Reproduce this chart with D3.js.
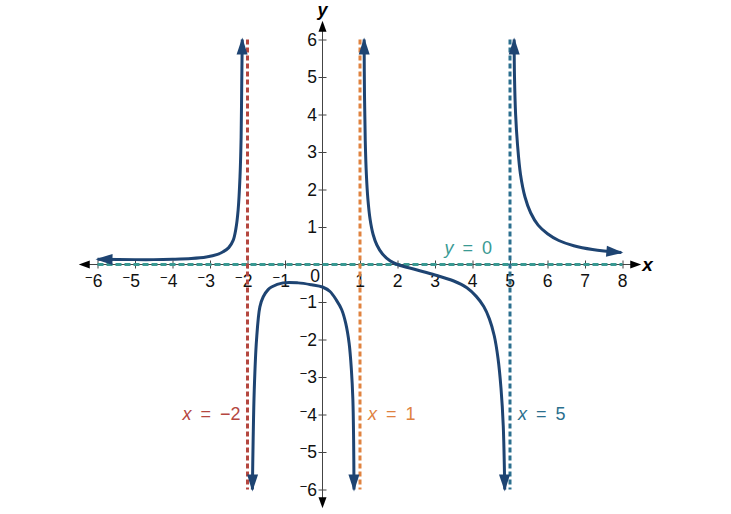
<!DOCTYPE html>
<html>
<head>
<meta charset="utf-8">
<script src="https://cdn.jsdelivr.net/npm/d3@7"></script>
<style>
  body { margin: 0; background: #fff; }
  svg { display: block; font-family: "Liberation Sans", Arial, sans-serif; }
</style>
</head>
<body>
<div id="chart"></div>
<script>
// tick values
const xTicks = [-6, -5, -4, -3, -2, -1, 1, 2, 3, 4, 5, 6, 7, 8];
const yTicks = [-6, -5, -4, -3, -2, -1, 1, 2, 3, 4, 5, 6];

// curve branches as [x, y]
const branchLeft = [
  [-6.0, 0.14], [-5.0, 0.13], [-4.5, 0.13], [-4.0, 0.14], [-3.5, 0.16],
  [-3.1, 0.2], [-2.8, 0.27], [-2.65, 0.34], [-2.5, 0.45], [-2.38, 0.65],
  [-2.31, 0.95], [-2.25, 1.45], [-2.2, 2.34], [-2.17, 3.4], [-2.155, 4.7], [-2.14, 6.0]
];
const branchMiddle = [
  [-1.87, -6.0], [-1.85, -4.7], [-1.82, -3.35], [-1.76, -2.02], [-1.67, -1.13],
  [-1.58, -0.86], [-1.45, -0.67], [-1.36, -0.6], [-1.05, -0.49], [-0.65, -0.49],
  [-0.29, -0.54], [0.0, -0.6], [0.2, -0.72], [0.37, -0.95], [0.51, -1.2],
  [0.62, -1.57], [0.71, -2.1], [0.77, -2.8], [0.81, -3.6], [0.83, -4.69], [0.84, -6.0]
];
const branchRight = [
  [1.11, 6.0], [1.12, 4.5], [1.14, 3.3], [1.17, 2.4], [1.21, 1.75],
  [1.27, 1.2], [1.35, 0.8], [1.45, 0.52], [1.6, 0.28], [1.8, 0.1],
  [2.0, 0.0], [2.5, -0.14], [3.0, -0.28], [3.5, -0.44], [3.85, -0.62],
  [4.1, -0.85], [4.3, -1.12], [4.45, -1.45], [4.58, -1.9], [4.68, -2.5],
  [4.76, -3.3], [4.82, -4.3], [4.86, -6.0]
];
const branchFar = [
  [5.11, 6.0], [5.12, 5.0], [5.15, 4.0], [5.2, 3.2], [5.28, 2.4],
  [5.4, 1.8], [5.55, 1.38], [5.75, 1.05], [6.0, 0.82], [6.3, 0.64],
  [6.7, 0.5], [7.2, 0.4], [7.97, 0.32]
];
const branches = [branchLeft, branchMiddle, branchRight, branchFar];

// asymptotes
const vAsymptotes = [-2, 1, 5];
const vLabels = ["−2", "1", "5"];
const vColors = ["#b5473f", "#e0823f", "#2b6f8e"];
const hAsymptote = 0;

const width = 731, height = 514;
const curveColor = "#1e4472";
const hColor = "#3a9a93";

const svg = d3.select("#chart").append("svg")
  .attr("width", width)
  .attr("height", height);

const x = d3.scaleLinear().domain([-6, 8]).range([97.5, 622.5]);
const y = d3.scaleLinear().domain([-6, 6]).range([489.5, 39.5]);

function tri(g, tip, ux, uy, len, half, color) {
  const bx = tip[0] - ux * len, by = tip[1] - uy * len;
  g.append("path")
    .attr("d", `M${tip[0]},${tip[1]}L${bx - uy * half},${by + ux * half}L${bx + uy * half},${by - ux * half}Z`)
    .attr("fill", color);
}

// axes
const axisG = svg.append("g");
axisG.append("line")
  .attr("x1", x(-6.5) + 6).attr("x2", x(8.5) - 6)
  .attr("y1", y(0)).attr("y2", y(0))
  .attr("stroke", "#444").attr("stroke-width", 1);
axisG.append("line")
  .attr("x1", x(0)).attr("x2", x(0))
  .attr("y1", y(6.5) + 6).attr("y2", y(-6.5) - 6)
  .attr("stroke", "#444").attr("stroke-width", 1);
tri(axisG, [x(-6.5), y(0)], -1, 0, 11, 4, "#000");
tri(axisG, [x(8.5), y(0)], 1, 0, 11, 4, "#000");
tri(axisG, [x(0), y(6.5)], 0, -1, 11, 4, "#000");
tri(axisG, [x(0), y(-6.5)], 0, 1, 11, 4, "#000");

const xAxis = svg.append("g")
  .attr("transform", `translate(0,${y(0)})`)
  .call(d3.axisBottom(x).tickValues(xTicks).tickSize(4).tickFormat(""));
xAxis.select(".domain").remove();
xAxis.selectAll(".tick line").attr("y1", -4).attr("y2", 4).attr("stroke", "#444");

const yAxis = svg.append("g")
  .attr("transform", `translate(${x(0)},0)`)
  .call(d3.axisLeft(y).tickValues(yTicks).tickSize(4).tickFormat(""));
yAxis.select(".domain").remove();
yAxis.selectAll(".tick line").attr("x1", -4).attr("x2", 4).attr("stroke", "#444");

// tick labels with raised minus
function tickLabel(sel, v) {
  if (v < 0) {
    sel.append("tspan").attr("font-size", 13).attr("dy", -5).text("−");
    sel.append("tspan").attr("dy", 5).text(Math.abs(v));
  } else {
    sel.text(v);
  }
}
const labG = svg.append("g").attr("font-size", 17.5).attr("fill", "#111");
xTicks.forEach(v => {
  const t = labG.append("text")
    .attr("x", v < 0 ? x(v) + 4.9 : x(v))
    .attr("y", y(0) + 22)
    .attr("text-anchor", v < 0 ? "end" : "middle");
  tickLabel(t, v);
});
yTicks.forEach(v => {
  const t = labG.append("text")
    .attr("x", x(0) - 5.5)
    .attr("y", y(v) + 6.2)
    .attr("text-anchor", "end");
  tickLabel(t, v);
});
labG.append("text")
  .attr("x", x(0) - 7.5).attr("y", y(0) + 17.5)
  .attr("text-anchor", "middle").text("0");

// axis titles
svg.append("text")
  .attr("x", x(8.5) + 1).attr("y", y(0) + 6)
  .attr("font-size", 19).attr("font-weight", "bold").attr("font-style", "italic")
  .text("x");
svg.append("text")
  .attr("x", x(0)).attr("y", y(6.5) - 4.5)
  .attr("text-anchor", "middle")
  .attr("font-size", 18).attr("font-weight", "bold").attr("font-style", "italic")
  .text("y");

// horizontal asymptote
svg.append("line")
  .attr("x1", x(-6)).attr("x2", x(8))
  .attr("y1", y(hAsymptote)).attr("y2", y(hAsymptote))
  .attr("stroke", hColor).attr("stroke-width", 3)
  .attr("stroke-dasharray", "6,3");

// vertical asymptotes
vAsymptotes.forEach((v, i) => {
  svg.append("line")
    .attr("x1", x(v)).attr("x2", x(v))
    .attr("y1", y(6)).attr("y2", y(-6))
    .attr("stroke", vColors[i]).attr("stroke-width", 3)
    .attr("stroke-dasharray", "5,3");
});

// asymptote labels
function eqLabel(px, py, anchor, name, value, color) {
  const t = svg.append("text")
    .attr("x", px).attr("y", py)
    .attr("text-anchor", anchor)
    .attr("font-size", 18).attr("fill", color);
  t.append("tspan").attr("font-style", "italic").text(name);
  t.append("tspan").text("\u2002=\u2002" + value);
}
eqLabel(x(-2) - 7, y(-4) + 5.5, "end", "x", vLabels[0], vColors[0]);
eqLabel(x(1) + 8, y(-4) + 5.5, "start", "x", vLabels[1], vColors[1]);
eqLabel(x(5) + 8, y(-4) + 5.5, "start", "x", vLabels[2], vColors[2]);
eqLabel(x(3.25), y(0) - 10.5, "start", "y", "0", hColor);

// curve branches
const line = d3.line()
  .x(d => x(d[0]))
  .y(d => y(d[1]))
  .curve(d3.curveCatmullRom.alpha(0.5));

const curveG = svg.append("g");
branches.forEach(b => {
  const p = curveG.append("path")
    .attr("d", line(b))
    .attr("fill", "none")
    .attr("stroke", curveColor)
    .attr("stroke-width", 3);
  const node = p.node();
  const L = node.getTotalLength();
  [[0, 8], [L, L - 8]].forEach(([a, c]) => {
    const pa = node.getPointAtLength(a), pc = node.getPointAtLength(c);
    const dx = pa.x - pc.x, dy = pa.y - pc.y, d = Math.hypot(dx, dy);
    const ux = dx / d, uy = dy / d;
    tri(curveG, [pa.x + ux * 2, pa.y + uy * 2], ux, uy, 17, 5.5, curveColor);
  });
});
</script>
</body>
</html>
